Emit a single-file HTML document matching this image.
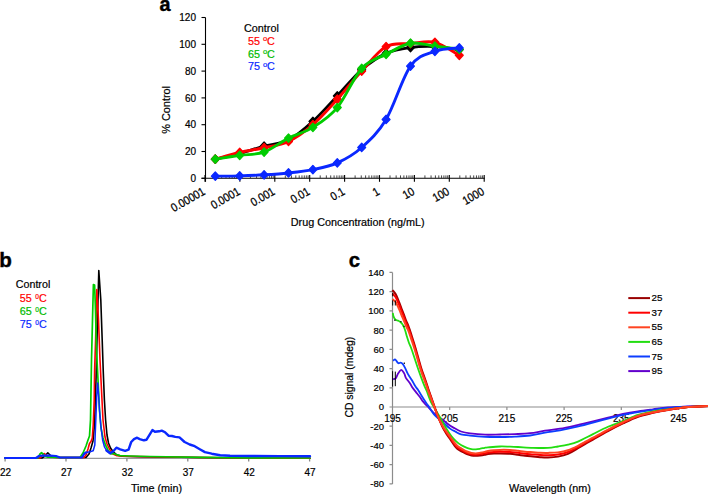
<!DOCTYPE html><html><head><meta charset="utf-8"><style>html,body{margin:0;padding:0;background:#fff;}svg{display:block;}text{font-family:"Liberation Sans", sans-serif;}</style></head><body>
<svg width="708" height="494" viewBox="0 0 708 494">
<text x="159.6" y="10.6" font-size="19.8" font-weight="bold" stroke="#000" stroke-width="0.4">a</text>
<g stroke="#000" stroke-width="1.1" fill="none">
<path d="M205.5,17.5 V181.8"/>
<path d="M201.5,178.30 H205.5"/>
<path d="M201.5,151.50 H205.5"/>
<path d="M201.5,124.70 H205.5"/>
<path d="M201.5,97.90 H205.5"/>
<path d="M201.5,71.10 H205.5"/>
<path d="M201.5,44.30 H205.5"/>
<path d="M201.5,17.50 H205.5"/>
<path d="M201.5,178.30 H484.7"/>
<path d="M205.00,175.1 V181.8"/>
<path d="M239.90,175.1 V181.8"/>
<path d="M274.80,175.1 V181.8"/>
<path d="M309.70,175.1 V181.8"/>
<path d="M344.60,175.1 V181.8"/>
<path d="M379.50,175.1 V181.8"/>
<path d="M414.40,175.1 V181.8"/>
<path d="M449.30,175.1 V181.8"/>
<path d="M484.20,175.1 V181.8"/>
</g>
<g stroke="#333" stroke-width="0.9" fill="none">
<path d="M215.51,175.4 V178.3"/>
<path d="M221.65,175.4 V178.3"/>
<path d="M226.01,175.4 V178.3"/>
<path d="M229.39,175.4 V178.3"/>
<path d="M232.16,175.4 V178.3"/>
<path d="M234.49,175.4 V178.3"/>
<path d="M236.52,175.4 V178.3"/>
<path d="M238.30,175.4 V178.3"/>
<path d="M250.41,175.4 V178.3"/>
<path d="M256.55,175.4 V178.3"/>
<path d="M260.91,175.4 V178.3"/>
<path d="M264.29,175.4 V178.3"/>
<path d="M267.06,175.4 V178.3"/>
<path d="M269.39,175.4 V178.3"/>
<path d="M271.42,175.4 V178.3"/>
<path d="M273.20,175.4 V178.3"/>
<path d="M285.31,175.4 V178.3"/>
<path d="M291.45,175.4 V178.3"/>
<path d="M295.81,175.4 V178.3"/>
<path d="M299.19,175.4 V178.3"/>
<path d="M301.96,175.4 V178.3"/>
<path d="M304.29,175.4 V178.3"/>
<path d="M306.32,175.4 V178.3"/>
<path d="M308.10,175.4 V178.3"/>
<path d="M320.21,175.4 V178.3"/>
<path d="M326.35,175.4 V178.3"/>
<path d="M330.71,175.4 V178.3"/>
<path d="M334.09,175.4 V178.3"/>
<path d="M336.86,175.4 V178.3"/>
<path d="M339.19,175.4 V178.3"/>
<path d="M341.22,175.4 V178.3"/>
<path d="M343.00,175.4 V178.3"/>
<path d="M355.11,175.4 V178.3"/>
<path d="M361.25,175.4 V178.3"/>
<path d="M365.61,175.4 V178.3"/>
<path d="M368.99,175.4 V178.3"/>
<path d="M371.76,175.4 V178.3"/>
<path d="M374.09,175.4 V178.3"/>
<path d="M376.12,175.4 V178.3"/>
<path d="M377.90,175.4 V178.3"/>
<path d="M390.01,175.4 V178.3"/>
<path d="M396.15,175.4 V178.3"/>
<path d="M400.51,175.4 V178.3"/>
<path d="M403.89,175.4 V178.3"/>
<path d="M406.66,175.4 V178.3"/>
<path d="M408.99,175.4 V178.3"/>
<path d="M411.02,175.4 V178.3"/>
<path d="M412.80,175.4 V178.3"/>
<path d="M424.91,175.4 V178.3"/>
<path d="M431.05,175.4 V178.3"/>
<path d="M435.41,175.4 V178.3"/>
<path d="M438.79,175.4 V178.3"/>
<path d="M441.56,175.4 V178.3"/>
<path d="M443.89,175.4 V178.3"/>
<path d="M445.92,175.4 V178.3"/>
<path d="M447.70,175.4 V178.3"/>
<path d="M459.81,175.4 V178.3"/>
<path d="M465.95,175.4 V178.3"/>
<path d="M470.31,175.4 V178.3"/>
<path d="M473.69,175.4 V178.3"/>
<path d="M476.46,175.4 V178.3"/>
<path d="M478.79,175.4 V178.3"/>
<path d="M480.82,175.4 V178.3"/>
<path d="M482.60,175.4 V178.3"/>
</g>
<text x="196" y="181.90" font-size="10" text-anchor="end" stroke="#000" stroke-width="0.2">0</text>
<text x="196" y="155.10" font-size="10" text-anchor="end" stroke="#000" stroke-width="0.2">20</text>
<text x="196" y="128.30" font-size="10" text-anchor="end" stroke="#000" stroke-width="0.2">40</text>
<text x="196" y="101.50" font-size="10" text-anchor="end" stroke="#000" stroke-width="0.2">60</text>
<text x="196" y="74.70" font-size="10" text-anchor="end" stroke="#000" stroke-width="0.2">80</text>
<text x="196" y="47.90" font-size="10" text-anchor="end" stroke="#000" stroke-width="0.2">100</text>
<text x="196" y="21.10" font-size="10" text-anchor="end" stroke="#000" stroke-width="0.2">120</text>
<text transform="translate(206.00,193.8) rotate(-30) scale(0.97,1.12)" font-size="10.6" stroke="#000" stroke-width="0.25" text-anchor="end">0.00001</text>
<text transform="translate(240.90,193.8) rotate(-30) scale(0.97,1.12)" font-size="10.6" stroke="#000" stroke-width="0.25" text-anchor="end">0.0001</text>
<text transform="translate(275.80,193.8) rotate(-30) scale(0.97,1.12)" font-size="10.6" stroke="#000" stroke-width="0.25" text-anchor="end">0.001</text>
<text transform="translate(310.70,193.8) rotate(-30) scale(0.97,1.12)" font-size="10.6" stroke="#000" stroke-width="0.25" text-anchor="end">0.01</text>
<text transform="translate(345.60,193.8) rotate(-30) scale(0.97,1.12)" font-size="10.6" stroke="#000" stroke-width="0.25" text-anchor="end">0.1</text>
<text transform="translate(380.50,193.8) rotate(-30) scale(0.97,1.12)" font-size="10.6" stroke="#000" stroke-width="0.25" text-anchor="end">1</text>
<text transform="translate(415.40,193.8) rotate(-30) scale(0.97,1.12)" font-size="10.6" stroke="#000" stroke-width="0.25" text-anchor="end">10</text>
<text transform="translate(450.30,193.8) rotate(-30) scale(0.97,1.12)" font-size="10.6" stroke="#000" stroke-width="0.25" text-anchor="end">100</text>
<text transform="translate(485.20,193.8) rotate(-30) scale(0.97,1.12)" font-size="10.6" stroke="#000" stroke-width="0.25" text-anchor="end">1000</text>
<text x="290.8" y="226.0" font-size="10.8" stroke="#000" stroke-width="0.2">Drug Concentration (ng/mL)</text>
<text transform="translate(170.2,109.9) rotate(-90)" font-size="10.9" text-anchor="middle" stroke="#000" stroke-width="0.2">% Control</text>
<text x="244" y="31.5" font-size="10.8" stroke="#000" stroke-width="0.2">Control</text>
<text x="248" y="44.7" font-size="10.8" fill="#f00" stroke="#f00" stroke-width="0.2">55 <tspan font-size="7.6" dy="-3.9">o</tspan><tspan dy="3.9" dx="-0.2">C</tspan></text>
<text x="248" y="57.5" font-size="10.8" fill="#0b0" stroke="#0b0" stroke-width="0.2">65 <tspan font-size="7.6" dy="-3.9">o</tspan><tspan dy="3.9" dx="-0.2">C</tspan></text>
<text x="248" y="70.4" font-size="10.8" fill="#0a28ff" stroke="#0a28ff" stroke-width="0.2">75 <tspan font-size="7.6" dy="-3.9">o</tspan><tspan dy="3.9" dx="-0.2">C</tspan></text>
<path d="M215.30,159.14 C219.37,158.20 231.57,155.68 239.70,153.51 C247.83,151.34 255.97,148.37 264.10,146.14 C272.23,143.91 280.37,144.24 288.50,140.11 C296.63,135.98 304.77,128.72 312.90,121.35 C321.03,113.98 329.17,104.49 337.30,95.89 C345.43,87.29 353.57,76.84 361.70,69.76 C369.83,62.68 377.97,57.12 386.10,53.41 C394.23,49.70 402.37,48.66 410.50,47.52 C418.63,46.38 426.77,46.22 434.90,46.58 C443.03,46.94 455.23,49.15 459.30,49.66" fill="none" stroke="#000" stroke-width="2.9" stroke-linejoin="round"/>
<path d="M215.30,154.94 l3.9,4.2 l-3.9,4.2 l-3.9,-4.2zM239.70,149.31 l3.9,4.2 l-3.9,4.2 l-3.9,-4.2zM264.10,141.94 l3.9,4.2 l-3.9,4.2 l-3.9,-4.2zM288.50,135.91 l3.9,4.2 l-3.9,4.2 l-3.9,-4.2zM312.90,117.15 l3.9,4.2 l-3.9,4.2 l-3.9,-4.2zM337.30,91.69 l3.9,4.2 l-3.9,4.2 l-3.9,-4.2zM361.70,65.56 l3.9,4.2 l-3.9,4.2 l-3.9,-4.2zM386.10,49.21 l3.9,4.2 l-3.9,4.2 l-3.9,-4.2zM410.50,43.32 l3.9,4.2 l-3.9,4.2 l-3.9,-4.2zM434.90,42.38 l3.9,4.2 l-3.9,4.2 l-3.9,-4.2zM459.30,45.46 l3.9,4.2 l-3.9,4.2 l-3.9,-4.2z" fill="#000" stroke="#000" stroke-width="1.3" stroke-linejoin="round"/>
<path d="M215.30,159.14 C219.37,158.02 231.57,154.34 239.70,152.44 C247.83,150.54 255.97,149.58 264.10,147.75 C272.23,145.92 280.37,145.29 288.50,141.45 C296.63,137.61 304.77,131.74 312.90,124.70 C321.03,117.67 329.17,108.17 337.30,99.24 C345.43,90.31 353.57,79.88 361.70,71.10 C369.83,62.32 377.97,51.16 386.10,46.58 C394.23,42.00 402.37,44.34 410.50,43.63 C418.63,42.92 426.77,40.35 434.90,42.29 C443.03,44.23 455.23,53.12 459.30,55.29" fill="none" stroke="#f00" stroke-width="2.9" stroke-linejoin="round"/>
<path d="M215.30,154.94 l3.9,4.2 l-3.9,4.2 l-3.9,-4.2zM239.70,148.24 l3.9,4.2 l-3.9,4.2 l-3.9,-4.2zM264.10,143.55 l3.9,4.2 l-3.9,4.2 l-3.9,-4.2zM288.50,137.25 l3.9,4.2 l-3.9,4.2 l-3.9,-4.2zM312.90,120.50 l3.9,4.2 l-3.9,4.2 l-3.9,-4.2zM337.30,95.04 l3.9,4.2 l-3.9,4.2 l-3.9,-4.2zM361.70,66.90 l3.9,4.2 l-3.9,4.2 l-3.9,-4.2zM386.10,42.38 l3.9,4.2 l-3.9,4.2 l-3.9,-4.2zM410.50,39.43 l3.9,4.2 l-3.9,4.2 l-3.9,-4.2zM434.90,38.09 l3.9,4.2 l-3.9,4.2 l-3.9,-4.2zM459.30,51.09 l3.9,4.2 l-3.9,4.2 l-3.9,-4.2z" fill="#f00" stroke="#f00" stroke-width="1.3" stroke-linejoin="round"/>
<path d="M215.30,159.14 C219.37,158.51 231.57,156.57 239.70,155.39 C247.83,154.20 255.97,154.92 264.10,152.04 C272.23,149.16 280.37,142.21 288.50,138.10 C296.63,133.99 304.77,132.47 312.90,127.38 C321.03,122.29 329.17,117.37 337.30,107.55 C345.43,97.72 353.57,77.29 361.70,68.42 C369.83,59.55 377.97,58.55 386.10,54.35 C394.23,50.15 402.37,44.59 410.50,43.23 C418.63,41.87 426.77,45.17 434.90,46.18 C443.03,47.18 455.23,48.74 459.30,49.26" fill="none" stroke="#0c0" stroke-width="2.9" stroke-linejoin="round"/>
<path d="M215.30,154.94 l3.9,4.2 l-3.9,4.2 l-3.9,-4.2zM239.70,151.19 l3.9,4.2 l-3.9,4.2 l-3.9,-4.2zM264.10,147.84 l3.9,4.2 l-3.9,4.2 l-3.9,-4.2zM288.50,133.90 l3.9,4.2 l-3.9,4.2 l-3.9,-4.2zM312.90,123.18 l3.9,4.2 l-3.9,4.2 l-3.9,-4.2zM337.30,103.35 l3.9,4.2 l-3.9,4.2 l-3.9,-4.2zM361.70,64.22 l3.9,4.2 l-3.9,4.2 l-3.9,-4.2zM386.10,50.15 l3.9,4.2 l-3.9,4.2 l-3.9,-4.2zM410.50,39.03 l3.9,4.2 l-3.9,4.2 l-3.9,-4.2zM434.90,41.98 l3.9,4.2 l-3.9,4.2 l-3.9,-4.2zM459.30,45.06 l3.9,4.2 l-3.9,4.2 l-3.9,-4.2z" fill="#0c0" stroke="#0c0" stroke-width="1.3" stroke-linejoin="round"/>
<path d="M215.30,176.16 C219.37,176.11 231.57,176.11 239.70,175.89 C247.83,175.66 255.97,175.31 264.10,174.82 C272.23,174.32 280.37,173.81 288.50,172.94 C296.63,172.07 304.77,171.26 312.90,169.59 C321.03,167.92 329.17,166.58 337.30,162.89 C345.43,159.21 353.57,154.72 361.70,147.48 C369.83,140.24 377.97,133.03 386.10,119.47 C394.23,105.92 402.37,77.51 410.50,66.14 C418.63,54.77 426.77,54.31 434.90,51.27 C443.03,48.23 455.23,48.48 459.30,47.92" fill="none" stroke="#0a28ff" stroke-width="2.9" stroke-linejoin="round"/>
<path d="M215.30,171.96 l3.9,4.2 l-3.9,4.2 l-3.9,-4.2zM239.70,171.69 l3.9,4.2 l-3.9,4.2 l-3.9,-4.2zM264.10,170.62 l3.9,4.2 l-3.9,4.2 l-3.9,-4.2zM288.50,168.74 l3.9,4.2 l-3.9,4.2 l-3.9,-4.2zM312.90,165.39 l3.9,4.2 l-3.9,4.2 l-3.9,-4.2zM337.30,158.69 l3.9,4.2 l-3.9,4.2 l-3.9,-4.2zM361.70,143.28 l3.9,4.2 l-3.9,4.2 l-3.9,-4.2zM386.10,115.27 l3.9,4.2 l-3.9,4.2 l-3.9,-4.2zM410.50,61.94 l3.9,4.2 l-3.9,4.2 l-3.9,-4.2zM434.90,47.07 l3.9,4.2 l-3.9,4.2 l-3.9,-4.2zM459.30,43.72 l3.9,4.2 l-3.9,4.2 l-3.9,-4.2z" fill="#0a28ff" stroke="#0a28ff" stroke-width="1.3" stroke-linejoin="round"/>
<text x="-0.7" y="266.8" font-size="20.6" font-weight="bold" stroke="#000" stroke-width="0.4">b</text>
<text x="15.8" y="288.0" font-size="10.7" stroke="#000" stroke-width="0.2">Control</text>
<text x="19.8" y="301.9" font-size="10.8" fill="#f00" stroke="#f00" stroke-width="0.2">55 <tspan font-size="6.6" dy="-3.2" dx="0.4">0</tspan><tspan dy="3.2" dx="0.1">C</tspan></text>
<text x="19.8" y="314.9" font-size="10.8" fill="#0b0" stroke="#0b0" stroke-width="0.2">65 <tspan font-size="6.6" dy="-3.2" dx="0.4">0</tspan><tspan dy="3.2" dx="0.1">C</tspan></text>
<text x="19.8" y="327.9" font-size="10.8" fill="#0a28ff" stroke="#0a28ff" stroke-width="0.2">75 <tspan font-size="6.6" dy="-3.2" dx="0.4">0</tspan><tspan dy="3.2" dx="0.1">C</tspan></text>
<path d="M5.1,458.4 H309.6" stroke="#999" stroke-width="1.2"/>
<text x="5.60" y="476.1" font-size="10" text-anchor="middle" stroke="#000" stroke-width="0.2">22</text>
<text x="66.50" y="476.1" font-size="10" text-anchor="middle" stroke="#000" stroke-width="0.2">27</text>
<text x="127.40" y="476.1" font-size="10" text-anchor="middle" stroke="#000" stroke-width="0.2">32</text>
<text x="188.30" y="476.1" font-size="10" text-anchor="middle" stroke="#000" stroke-width="0.2">37</text>
<text x="249.20" y="476.1" font-size="10" text-anchor="middle" stroke="#000" stroke-width="0.2">42</text>
<text x="310.10" y="476.1" font-size="10" text-anchor="middle" stroke="#000" stroke-width="0.2">47</text>
<path d="M5.10,458.0 V461.6M66.00,458.0 V461.6M126.90,458.0 V461.6M187.80,458.0 V461.6M248.70,458.0 V461.6M309.60,458.0 V461.6" stroke="#888" stroke-width="1.3"/>
<text x="156.5" y="491.5" font-size="10.8" text-anchor="middle" stroke="#000" stroke-width="0.2">Time (min)</text>
<path d="M5.00,458.00 L42.00,458.00 L45.00,456.00 L47.80,452.80 L50.00,455.00 L52.00,457.30 L60.00,457.50 L86.00,457.50 L89.00,454.00 L91.00,448.00 L93.00,441.00 L94.50,425.00 L96.00,380.00 L97.50,320.00 L98.80,270.50 L100.80,300.00 L102.20,340.00 L103.20,370.00 L104.40,400.00 L105.60,420.00 L107.00,435.00 L108.50,443.00 L110.50,448.00 L113.00,451.50 L117.00,455.00 L122.00,456.30 L140.00,456.70 L200.00,457.50 L250.00,458.00 L310.00,458.20" fill="none" stroke="#000" stroke-width="1.6" stroke-linejoin="round" stroke-linecap="round"/>
<path d="M5.00,458.00 L40.00,458.00 L42.00,455.50 L44.00,453.50 L46.00,455.00 L48.00,457.00 L60.00,457.50 L84.00,457.50 L86.00,455.00 L88.00,449.00 L89.50,443.50 L91.00,441.50 L92.30,438.00 L93.20,425.00 L94.20,400.00 L94.60,370.00 L95.60,340.00 L96.80,289.50 L98.50,320.00 L100.00,360.00 L101.50,390.00 L103.00,420.00 L105.00,437.00 L107.00,444.00 L110.00,450.00 L113.00,454.00 L117.00,455.70 L125.00,456.30 L150.00,456.80 L200.00,457.50 L250.00,458.00 L310.00,458.20" fill="none" stroke="#f00" stroke-width="1.6" stroke-linejoin="round" stroke-linecap="round"/>
<path d="M5.00,458.00 L38.00,458.00 L40.00,454.00 L41.50,452.70 L43.00,454.00 L45.00,456.50 L48.00,457.20 L60.00,457.50 L80.00,457.50 L83.00,453.00 L86.00,446.00 L88.00,440.00 L89.50,436.00 L90.50,420.00 L91.50,360.00 L92.50,320.00 L93.40,284.50 L94.60,285.00 L95.50,310.00 L96.50,350.00 L98.00,380.00 L99.50,410.00 L101.00,428.00 L103.00,438.00 L105.50,445.00 L108.00,450.00 L111.00,454.00 L114.00,453.50 L116.00,454.50 L120.00,455.60 L130.00,456.00 L150.00,456.50 L200.00,457.30 L250.00,457.90 L310.00,458.00" fill="none" stroke="#0c0" stroke-width="1.7" stroke-linejoin="round" stroke-linecap="round"/>
<path d="M5.00,458.00 L36.00,458.00 L39.00,456.00 L43.00,455.50 L50.00,455.70 L56.00,456.00 L60.00,457.50 L82.00,457.50 L84.00,454.00 L86.00,452.50" fill="none" stroke="#0a28ff" stroke-width="2.2" stroke-linejoin="round" stroke-linecap="round"/>
<path d="M84.00,454.00 L86.00,452.50 L90.00,451.80 L93.20,450.80 L94.80,445.00 L95.80,420.00 L96.80,395.00 L97.70,383.00 L98.60,395.00 L99.50,410.00 L100.80,425.00 L102.60,440.00 L104.50,447.00 L106.50,450.50 L110.10,453.30" fill="none" stroke="#0a28ff" stroke-width="1.5" stroke-linejoin="round" stroke-linecap="round"/>
<path d="M106.50,450.50 L110.10,453.30 L113.00,451.50 L116.40,447.70 L120.20,449.30 L125.20,450.80 L128.60,449.60 L131.20,442.00 L134.00,439.10 L137.10,437.70 L139.70,439.10 L143.90,440.30 L146.40,439.80 L149.80,434.30 L152.40,430.10 L154.90,431.80 L159.20,431.30 L161.70,430.60 L165.10,432.30 L168.50,435.70 L171.90,436.00 L175.30,436.90 L179.50,437.40 L184.60,442.00 L189.70,444.50 L194.70,446.20 L199.80,449.20 L204.90,452.10 L211.70,453.70 L220.20,455.20 L230.00,455.70 L250.00,456.00 L280.00,456.10 L310.00,456.20" fill="none" stroke="#0a28ff" stroke-width="2.4" stroke-linejoin="round" stroke-linecap="round"/>
<text x="348.8" y="267" font-size="20.3" font-weight="bold" stroke="#000" stroke-width="0.4">c</text>
<text x="384" y="487.28" font-size="9.5" text-anchor="end" stroke="#000" stroke-width="0.2">-80</text>
<text x="384" y="468.06" font-size="9.5" text-anchor="end" stroke="#000" stroke-width="0.2">-60</text>
<text x="384" y="448.84" font-size="9.5" text-anchor="end" stroke="#000" stroke-width="0.2">-40</text>
<text x="384" y="429.62" font-size="9.5" text-anchor="end" stroke="#000" stroke-width="0.2">-20</text>
<text x="384" y="410.40" font-size="9.5" text-anchor="end" stroke="#000" stroke-width="0.2">0</text>
<text x="384" y="391.18" font-size="9.5" text-anchor="end" stroke="#000" stroke-width="0.2">20</text>
<text x="384" y="371.96" font-size="9.5" text-anchor="end" stroke="#000" stroke-width="0.2">40</text>
<text x="384" y="352.74" font-size="9.5" text-anchor="end" stroke="#000" stroke-width="0.2">60</text>
<text x="384" y="333.52" font-size="9.5" text-anchor="end" stroke="#000" stroke-width="0.2">80</text>
<text x="384" y="314.30" font-size="9.5" text-anchor="end" stroke="#000" stroke-width="0.2">100</text>
<text x="384" y="295.08" font-size="9.5" text-anchor="end" stroke="#000" stroke-width="0.2">120</text>
<text x="384" y="275.86" font-size="9.5" text-anchor="end" stroke="#000" stroke-width="0.2">140</text>
<path d="M392.5,272.46 V483.88 M389.5,483.88 H392.5 M389.5,464.66 H392.5 M389.5,445.44 H392.5 M389.5,426.22 H392.5 M389.5,407.00 H392.5 M389.5,387.78 H392.5 M389.5,368.56 H392.5 M389.5,349.34 H392.5 M389.5,330.12 H392.5 M389.5,310.90 H392.5 M389.5,291.68 H392.5 M389.5,272.46 H392.5 M392.5,407.00 H708 M392.50,407.00 V410.00 M449.70,407.00 V410.00 M506.90,407.00 V410.00 M564.10,407.00 V410.00 M621.30,407.00 V410.00 M678.50,407.00 V410.00" stroke="#8c8c8c" stroke-width="1.2" fill="none"/>
<text x="392.50" y="422" font-size="10" text-anchor="middle" stroke="#000" stroke-width="0.2">195</text>
<text x="449.70" y="422" font-size="10" text-anchor="middle" stroke="#000" stroke-width="0.2">205</text>
<text x="506.90" y="422" font-size="10" text-anchor="middle" stroke="#000" stroke-width="0.2">215</text>
<text x="564.10" y="422" font-size="10" text-anchor="middle" stroke="#000" stroke-width="0.2">225</text>
<text x="621.30" y="422" font-size="10" text-anchor="middle" stroke="#000" stroke-width="0.2">235</text>
<text x="678.50" y="422" font-size="10" text-anchor="middle" stroke="#000" stroke-width="0.2">245</text>
<text x="550" y="491.8" font-size="10.8" text-anchor="middle" stroke="#000" stroke-width="0.2">Wavelength (nm)</text>
<text transform="translate(353.2,377.2) rotate(-90)" font-size="10.4" text-anchor="middle" stroke="#000" stroke-width="0.2">CD signal (mdeg)</text>
<path d="M628.3,298.1 H650" stroke="#990000" stroke-width="2"/>
<text x="651.5" y="301.1" font-size="9.8" stroke="#000" stroke-width="0.2">25</text>
<path d="M628.3,312.7 H650" stroke="#ff0000" stroke-width="2"/>
<text x="651.5" y="315.7" font-size="9.8" stroke="#000" stroke-width="0.2">37</text>
<path d="M628.3,327.3 H650" stroke="#ff4422" stroke-width="2"/>
<text x="651.5" y="330.3" font-size="9.8" stroke="#000" stroke-width="0.2">55</text>
<path d="M628.3,341.9 H650" stroke="#22dd11" stroke-width="2"/>
<text x="651.5" y="344.9" font-size="9.8" stroke="#000" stroke-width="0.2">65</text>
<path d="M628.3,356.5 H650" stroke="#0d3dff" stroke-width="2"/>
<text x="651.5" y="359.5" font-size="9.8" stroke="#000" stroke-width="0.2">75</text>
<path d="M628.3,371.1 H650" stroke="#6200cc" stroke-width="2"/>
<text x="651.5" y="374.1" font-size="9.8" stroke="#000" stroke-width="0.2">95</text>
<path d="M393.10,379.30 C393.53,379.13 394.87,379.25 395.70,378.30 C396.53,377.35 397.22,374.98 398.10,373.60 C398.98,372.22 400.15,370.30 401.00,370.00 C401.85,369.70 402.62,371.13 403.20,371.80 C403.78,372.47 404.03,372.95 404.50,374.00 C404.97,375.05 405.07,376.53 406.00,378.10 C406.93,379.67 409.03,381.82 410.10,383.40 C411.17,384.98 411.42,386.15 412.40,387.60 C413.38,389.05 414.72,390.48 416.00,392.10 C417.28,393.72 418.95,395.75 420.10,397.30 C421.25,398.85 421.95,400.18 422.90,401.40 C423.85,402.62 424.80,403.53 425.80,404.60 C426.80,405.67 427.53,406.37 428.90,407.80 C430.27,409.23 431.80,411.28 434.00,413.20 C436.20,415.12 439.85,417.53 442.10,419.30 C444.35,421.07 445.62,422.42 447.50,423.80 C449.38,425.18 451.15,426.32 453.40,427.60 C455.65,428.88 458.23,430.53 461.00,431.50 C463.77,432.47 466.00,432.87 470.00,433.40 C474.00,433.93 480.00,434.52 485.00,434.70 C490.00,434.88 495.00,434.60 500.00,434.50 C505.00,434.40 510.00,434.32 515.00,434.10 C520.00,433.88 525.00,433.77 530.00,433.20 C535.00,432.63 540.00,431.45 545.00,430.70 C550.00,429.95 555.00,429.55 560.00,428.70 C565.00,427.85 569.50,426.83 575.00,425.60 C580.50,424.37 587.50,422.62 593.00,421.30 C598.50,419.98 603.00,418.92 608.00,417.70 C613.00,416.48 618.00,415.07 623.00,414.00 C628.00,412.93 633.00,412.08 638.00,411.30 C643.00,410.52 648.00,409.93 653.00,409.30 C658.00,408.67 662.17,407.97 668.00,407.50 C673.83,407.03 681.33,406.77 688.00,406.50 C694.67,406.23 704.67,406.00 708.00,405.90" fill="none" stroke="#6200cc" stroke-width="1.8"/>
<path d="M393.10,360.70 C393.47,360.50 394.47,359.10 395.30,359.50 C396.13,359.90 397.22,362.57 398.10,363.10 C398.98,363.63 399.85,362.57 400.60,362.70 C401.35,362.83 401.90,363.13 402.60,363.90 C403.30,364.67 403.90,365.60 404.80,367.30 C405.70,369.00 406.78,371.90 408.00,374.10 C409.22,376.30 410.90,378.52 412.10,380.50 C413.30,382.48 414.20,384.42 415.20,386.00 C416.20,387.58 417.08,388.45 418.10,390.00 C419.12,391.55 420.30,393.67 421.30,395.30 C422.30,396.93 423.22,398.42 424.10,399.80 C424.98,401.18 425.70,402.32 426.60,403.60 C427.50,404.88 428.27,405.72 429.50,407.50 C430.73,409.28 431.90,411.93 434.00,414.30 C436.10,416.67 439.42,419.32 442.10,421.70 C444.78,424.08 447.88,426.95 450.10,428.60 C452.32,430.25 453.58,430.65 455.40,431.60 C457.22,432.55 458.57,433.63 461.00,434.30 C463.43,434.97 466.00,435.18 470.00,435.60 C474.00,436.02 480.00,436.57 485.00,436.80 C490.00,437.03 495.00,437.03 500.00,437.00 C505.00,436.97 510.00,436.85 515.00,436.60 C520.00,436.35 525.00,436.15 530.00,435.50 C535.00,434.85 540.00,433.55 545.00,432.70 C550.00,431.85 555.00,431.32 560.00,430.40 C565.00,429.48 569.50,428.50 575.00,427.20 C580.50,425.90 587.50,424.02 593.00,422.60 C598.50,421.18 603.00,419.98 608.00,418.70 C613.00,417.42 618.00,415.98 623.00,414.90 C628.00,413.82 633.00,413.05 638.00,412.20 C643.00,411.35 648.00,410.53 653.00,409.80 C658.00,409.07 662.17,408.33 668.00,407.80 C673.83,407.27 681.33,406.92 688.00,406.60 C694.67,406.28 704.67,406.02 708.00,405.90" fill="none" stroke="#0d3dff" stroke-width="1.8"/>
<path d="M392.80,313.00 C392.93,313.60 393.15,315.48 393.60,316.60 C394.05,317.72 394.77,319.03 395.50,319.70 C396.23,320.37 397.18,320.22 398.00,320.60 C398.82,320.98 399.58,321.28 400.40,322.00 C401.22,322.72 402.22,323.82 402.90,324.90 C403.58,325.98 404.03,327.28 404.50,328.50 C404.97,329.72 405.30,330.85 405.70,332.20 C406.10,333.55 406.35,334.80 406.90,336.60 C407.45,338.40 408.18,340.77 409.00,343.00 C409.82,345.23 410.38,345.83 411.85,350.00 C413.32,354.17 415.88,362.43 417.80,368.00 C419.73,373.57 421.95,379.65 423.40,383.40 C424.85,387.15 425.23,387.40 426.50,390.50 C427.77,393.60 429.42,398.67 431.00,402.00 C432.58,405.33 434.58,408.08 436.00,410.50 C437.42,412.92 437.78,413.50 439.50,416.50 C441.22,419.50 444.33,425.23 446.30,428.50 C448.27,431.77 449.65,433.95 451.30,436.10 C452.95,438.25 454.58,439.92 456.20,441.40 C457.82,442.88 459.22,443.93 461.00,445.00 C462.78,446.07 465.17,447.12 466.90,447.80 C468.63,448.48 469.92,448.85 471.40,449.10 C472.88,449.35 474.32,449.37 475.80,449.30 C477.28,449.23 478.82,448.95 480.30,448.70 C481.78,448.45 483.42,448.02 484.70,447.80 C485.98,447.58 485.45,447.62 488.00,447.40 C490.55,447.18 496.33,446.62 500.00,446.50 C503.67,446.38 507.00,446.62 510.00,446.70 C513.00,446.78 514.17,446.82 518.00,447.00 C521.83,447.18 528.00,447.65 533.00,447.80 C538.00,447.95 543.83,448.12 548.00,447.90 C552.17,447.68 554.67,447.03 558.00,446.50 C561.33,445.97 564.67,445.52 568.00,444.70 C571.33,443.88 573.83,443.37 578.00,441.60 C582.17,439.83 588.00,436.57 593.00,434.10 C598.00,431.63 603.00,428.98 608.00,426.80 C613.00,424.62 618.00,423.00 623.00,421.00 C628.00,419.00 633.00,416.40 638.00,414.80 C643.00,413.20 648.00,412.32 653.00,411.40 C658.00,410.48 662.17,410.00 668.00,409.30 C673.83,408.60 681.33,407.75 688.00,407.20 C694.67,406.65 704.67,406.20 708.00,406.00" fill="none" stroke="#22dd11" stroke-width="1.8"/>
<path d="M392.40,290.20 C392.67,290.50 393.38,291.18 394.00,291.98 C394.62,292.78 395.23,293.28 396.10,295.01 C396.97,296.75 398.30,300.14 399.20,302.40 C400.10,304.66 400.68,306.43 401.50,308.56 C402.32,310.69 403.33,313.15 404.10,315.16 C404.87,317.17 405.43,318.97 406.10,320.62 C406.77,322.27 407.50,323.57 408.10,325.06 C408.70,326.56 409.22,328.16 409.70,329.59 C410.18,331.02 410.03,330.57 411.00,333.64 C411.97,336.71 413.87,342.50 415.50,348.02 C417.13,353.54 419.38,362.10 420.80,366.76 C422.22,371.43 422.97,373.02 424.00,376.02 C425.03,379.02 426.32,382.71 427.00,384.76 C427.68,386.81 427.43,386.37 428.10,388.35 C428.77,390.33 429.97,393.68 431.00,396.62 C432.03,399.57 433.30,403.16 434.30,406.04 C435.30,408.91 436.03,411.28 437.00,413.88 C437.97,416.47 438.98,419.03 440.10,421.60 C441.22,424.17 442.55,427.15 443.70,429.31 C444.85,431.48 445.87,432.86 447.00,434.60 C448.13,436.34 449.33,438.05 450.50,439.77 C451.67,441.50 452.83,443.42 454.00,444.95 C455.17,446.48 456.08,447.81 457.50,448.96 C458.92,450.12 460.93,451.03 462.50,451.89 C464.07,452.75 465.42,453.53 466.90,454.13 C468.38,454.73 469.92,455.19 471.40,455.47 C472.88,455.74 474.32,455.81 475.80,455.80 C477.28,455.79 478.82,455.59 480.30,455.41 C481.78,455.23 483.42,454.95 484.70,454.72 C485.98,454.48 486.45,454.19 488.00,454.00 C489.55,453.81 492.00,453.63 494.00,453.55 C496.00,453.47 497.33,453.46 500.00,453.50 C502.67,453.54 507.00,453.59 510.00,453.80 C513.00,454.01 515.50,454.45 518.00,454.78 C520.50,455.11 522.50,455.46 525.00,455.75 C527.50,456.05 530.50,456.30 533.00,456.54 C535.50,456.78 537.50,457.05 540.00,457.21 C542.50,457.37 545.00,457.60 548.00,457.50 C551.00,457.40 554.67,457.24 558.00,456.62 C561.33,456.01 564.67,455.22 568.00,453.82 C571.33,452.41 575.17,449.82 578.00,448.20 C580.83,446.58 582.50,445.52 585.00,444.07 C587.50,442.63 589.17,441.70 593.00,439.53 C596.83,437.35 603.00,433.71 608.00,431.02 C613.00,428.33 618.00,425.75 623.00,423.37 C628.00,420.99 633.00,418.47 638.00,416.72 C643.00,414.97 648.00,414.00 653.00,412.87 C658.00,411.74 662.17,410.90 668.00,409.92 C673.83,408.94 681.33,407.65 688.00,407.00 C694.67,406.35 704.67,406.17 708.00,406.00" fill="none" stroke="#a00000" stroke-width="2.0"/>
<path d="M392.40,293.60 C392.67,293.87 393.38,294.47 394.00,295.20 C394.62,295.93 395.23,296.37 396.10,298.00 C396.97,299.63 398.30,302.83 399.20,305.00 C400.10,307.17 400.68,308.92 401.50,311.00 C402.32,313.08 403.33,315.52 404.10,317.50 C404.87,319.48 405.43,321.27 406.10,322.90 C406.77,324.53 407.50,325.82 408.10,327.30 C408.70,328.78 409.22,330.38 409.70,331.80 C410.18,333.22 410.03,332.77 411.00,335.80 C411.97,338.83 413.87,344.55 415.50,350.00 C417.13,355.45 419.38,363.92 420.80,368.50 C422.22,373.08 422.97,374.58 424.00,377.50 C425.03,380.42 426.32,384.00 427.00,386.00 C427.68,388.00 427.43,387.58 428.10,389.50 C428.77,391.42 429.97,394.67 431.00,397.50 C432.03,400.33 433.30,403.75 434.30,406.50 C435.30,409.25 436.03,411.53 437.00,414.00 C437.97,416.47 438.98,418.88 440.10,421.30 C441.22,423.72 442.55,426.47 443.70,428.50 C444.85,430.53 445.87,431.83 447.00,433.50 C448.13,435.17 449.33,436.83 450.50,438.50 C451.67,440.17 452.83,442.00 454.00,443.50 C455.17,445.00 456.08,446.33 457.50,447.50 C458.92,448.67 460.93,449.62 462.50,450.50 C464.07,451.38 465.42,452.18 466.90,452.80 C468.38,453.42 469.92,453.90 471.40,454.20 C472.88,454.50 474.32,454.62 475.80,454.60 C477.28,454.58 478.82,454.32 480.30,454.10 C481.78,453.88 483.42,453.57 484.70,453.30 C485.98,453.03 486.45,452.73 488.00,452.50 C489.55,452.27 492.00,452.03 494.00,451.90 C496.00,451.77 497.33,451.70 500.00,451.70 C502.67,451.70 507.00,451.72 510.00,451.90 C513.00,452.08 515.50,452.50 518.00,452.80 C520.50,453.10 522.50,453.43 525.00,453.70 C527.50,453.97 530.50,454.18 533.00,454.40 C535.50,454.62 537.50,454.87 540.00,455.00 C542.50,455.13 545.00,455.28 548.00,455.20 C551.00,455.12 554.67,455.03 558.00,454.50 C561.33,453.97 564.67,453.25 568.00,452.00 C571.33,450.75 575.17,448.50 578.00,447.00 C580.83,445.50 582.50,444.40 585.00,443.00 C587.50,441.60 589.17,440.72 593.00,438.60 C596.83,436.48 603.00,432.93 608.00,430.30 C613.00,427.67 618.00,425.13 623.00,422.80 C628.00,420.47 633.00,418.00 638.00,416.30 C643.00,414.60 648.00,413.68 653.00,412.60 C658.00,411.52 662.17,410.73 668.00,409.80 C673.83,408.87 681.33,407.63 688.00,407.00 C694.67,406.37 704.67,406.17 708.00,406.00" fill="none" stroke="#ff0000" stroke-width="2.0"/>
<path d="M392.40,299.10 C392.67,299.31 393.38,299.77 394.00,300.39 C394.62,301.00 395.23,301.29 396.10,302.79 C396.97,304.29 398.30,307.36 399.20,309.40 C400.10,311.44 400.68,313.09 401.50,315.03 C402.32,316.97 403.33,319.21 404.10,321.06 C404.87,322.91 405.43,324.60 406.10,326.12 C406.77,327.65 407.50,328.82 408.10,330.20 C408.70,331.59 409.22,333.10 409.70,334.45 C410.18,335.80 410.03,335.37 411.00,338.32 C411.97,341.27 413.87,346.84 415.50,352.16 C417.13,357.48 419.38,365.77 420.80,370.24 C422.22,374.71 422.97,376.15 424.00,378.98 C425.03,381.81 426.32,385.29 427.00,387.24 C427.68,389.19 427.43,388.80 428.10,390.65 C428.77,392.51 429.97,395.66 431.00,398.38 C432.03,401.09 433.30,404.34 434.30,406.96 C435.30,409.59 436.03,411.79 437.00,414.12 C437.97,416.46 438.98,418.74 440.10,421.00 C441.22,423.26 442.55,425.79 443.70,427.69 C444.85,429.59 445.87,430.81 447.00,432.40 C448.13,433.99 449.33,435.62 450.50,437.23 C451.67,438.83 452.83,440.58 454.00,442.05 C455.17,443.52 456.08,444.86 457.50,446.04 C458.92,447.21 460.93,448.20 462.50,449.11 C464.07,450.01 465.42,450.83 466.90,451.47 C468.38,452.11 469.92,452.61 471.40,452.93 C472.88,453.26 474.32,453.42 475.80,453.40 C477.28,453.37 478.82,453.04 480.30,452.79 C481.78,452.54 483.42,452.18 484.70,451.88 C485.98,451.58 486.45,451.27 488.00,451.00 C489.55,450.73 492.00,450.43 494.00,450.25 C496.00,450.07 497.33,449.94 500.00,449.90 C502.67,449.86 507.00,449.85 510.00,450.00 C513.00,450.15 515.50,450.55 518.00,450.82 C520.50,451.09 522.50,451.41 525.00,451.65 C527.50,451.89 530.50,452.07 533.00,452.26 C535.50,452.45 537.50,452.68 540.00,452.79 C542.50,452.89 545.00,452.97 548.00,452.90 C551.00,452.83 554.67,452.83 558.00,452.38 C561.33,451.92 564.67,451.28 568.00,450.18 C571.33,449.09 575.17,447.18 578.00,445.80 C580.83,444.42 582.50,443.28 585.00,441.93 C587.50,440.57 589.17,439.73 593.00,437.67 C596.83,435.61 603.00,432.15 608.00,429.58 C613.00,427.01 618.00,424.51 623.00,422.23 C628.00,419.95 633.00,417.53 638.00,415.88 C643.00,414.23 648.00,413.36 653.00,412.33 C658.00,411.30 662.17,410.57 668.00,409.68 C673.83,408.79 681.33,407.61 688.00,407.00 C694.67,406.39 704.67,406.17 708.00,406.00" fill="none" stroke="#ff4422" stroke-width="2.0"/>
<path d="M392.6,371.2 V386.6 M395.3,371.6 V386.2 M392.7,293 V296.3 M392.7,300.3 V305.5 M395.3,300.5 V305.5" stroke="#000" stroke-width="1"/>
<path d="M394.9,319.6 v1.4 M400.9,320.9 v1.3 M404,325.7 v1.3 M404.3,362.6 v1.4" stroke="#000" stroke-width="1.1"/>
</svg></body></html>
